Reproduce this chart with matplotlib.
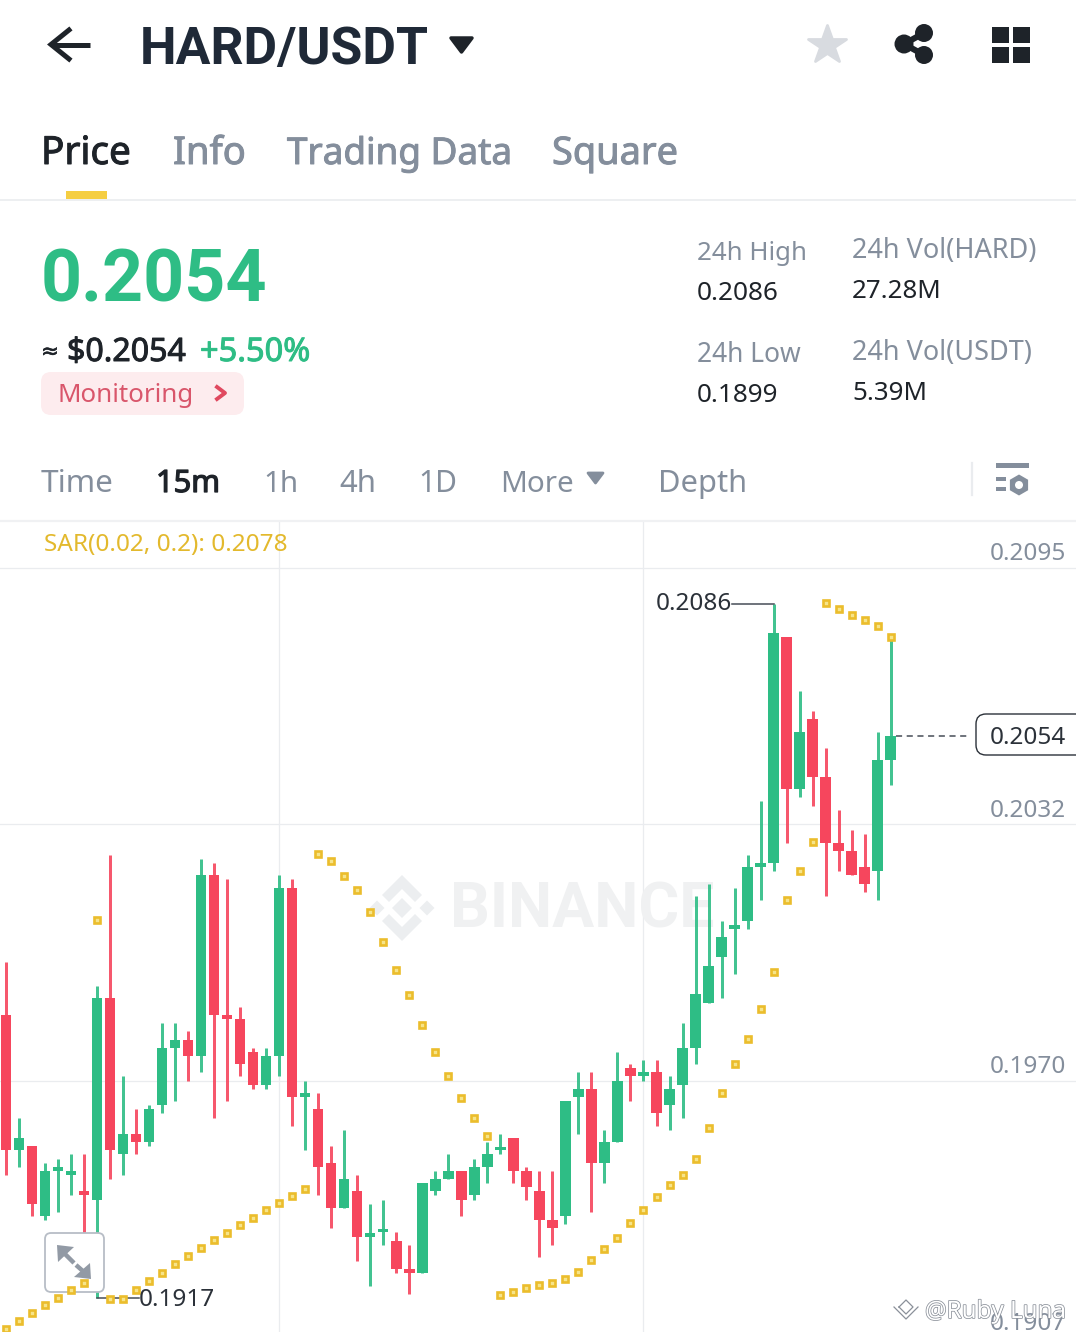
#!/usr/bin/env python
# -*- coding: utf-8 -*-
import matplotlib
matplotlib.use('Agg')
import numpy as np
import matplotlib.pyplot as plt
import matplotlib.patheffects as pe
from matplotlib.markers import MarkerStyle
from matplotlib.patches import Circle, FancyBboxPatch, Polygon, Rectangle

# 15m candles
opens = [0.1986, 0.1953, 0.1954, 0.1937, 0.1948, 0.1947, 0.1943, 0.1941, 0.1990, 0.1952,
         0.1957, 0.1955, 0.1964, 0.1978, 0.1980, 0.1976, 0.2020, 0.1986, 0.1985, 0.1977,
         0.1969, 0.1976, 0.2017, 0.1966, 0.1963, 0.1950, 0.1939, 0.1943, 0.1932, 0.1933,
         0.1931, 0.1924, 0.1923, 0.1943, 0.1946, 0.1948, 0.1942, 0.1949, 0.1953, 0.1956,
         0.1948, 0.1943, 0.1936, 0.1937, 0.1966, 0.1968, 0.1950, 0.1955, 0.1973, 0.1971,
         0.1972, 0.1964, 0.1969, 0.1978, 0.1989, 0.2000, 0.2007, 0.2009, 0.2022, 0.2023,
         0.2078, 0.2041, 0.2058, 0.2044, 0.2028, 0.2026, 0.2022, 0.2021, 0.2048]
closes = [0.1953, 0.1956, 0.1940, 0.1948, 0.1949, 0.1947, 0.1942, 0.1990, 0.1953, 0.1957,
          0.1955, 0.1963, 0.1978, 0.1980, 0.1976, 0.2020, 0.1986, 0.1985, 0.1974, 0.1969,
          0.1976, 0.2017, 0.1966, 0.1966, 0.1949, 0.1939, 0.1946, 0.1932, 0.1932, 0.1933,
          0.1924, 0.1923, 0.1945, 0.1946, 0.1948, 0.1941, 0.1949, 0.1952, 0.1953, 0.1948,
          0.1944, 0.1936, 0.1934, 0.1965, 0.1968, 0.1950, 0.1955, 0.1970, 0.1971, 0.1972,
          0.1962, 0.1968, 0.1978, 0.1991, 0.1998, 0.2005, 0.2007, 0.2022, 0.2023, 0.2079,
          0.2041, 0.2055, 0.2044, 0.2028, 0.2026, 0.2020, 0.2018, 0.2048, 0.2054]
highs = [0.1999, 0.1961, 0.1954, 0.1950, 0.1951, 0.1952, 0.1952, 0.1993, 0.2025, 0.1971,
         0.1963, 0.1964, 0.1984, 0.1984, 0.1982, 0.2024, 0.2023, 0.2019, 0.1988, 0.1978,
         0.1978, 0.2020, 0.2019, 0.1970, 0.1967, 0.1954, 0.1958, 0.1947, 0.1940, 0.1941,
         0.1933, 0.1930, 0.1945, 0.1948, 0.1952, 0.1948, 0.1951, 0.1955, 0.1957, 0.1956,
         0.1949, 0.1948, 0.1948, 0.1965, 0.1972, 0.1972, 0.1958, 0.1977, 0.1974, 0.1975,
         0.1975, 0.1971, 0.1984, 0.2015, 0.2018, 0.2009, 0.2017, 0.2025, 0.2038, 0.2086,
         0.2078, 0.2065, 0.2060, 0.2051, 0.2036, 0.2031, 0.2030, 0.2055, 0.2078]
lows = [0.1947, 0.1949, 0.1937, 0.1936, 0.1938, 0.1942, 0.1925, 0.1917, 0.1946, 0.1947,
        0.1952, 0.1954, 0.1962, 0.1965, 0.1970, 0.1972, 0.1961, 0.1965, 0.1971, 0.1968,
        0.1968, 0.1971, 0.1959, 0.1953, 0.1942, 0.1934, 0.1939, 0.1926, 0.1920, 0.1930,
        0.1923, 0.1918, 0.1923, 0.1942, 0.1946, 0.1937, 0.1941, 0.1945, 0.1952, 0.1945,
        0.1941, 0.1927, 0.1930, 0.1935, 0.1957, 0.1938, 0.1945, 0.1955, 0.1965, 0.1970,
        0.1959, 0.1958, 0.1961, 0.1974, 0.1989, 0.1990, 0.1996, 0.2007, 0.2014, 0.2021,
        0.2028, 0.2039, 0.2037, 0.2015, 0.2021, 0.2020, 0.2016, 0.2014, 0.2042]
sar = [0.19095, 0.19113, 0.19133, 0.19152, 0.19171, 0.19190, 0.19208, 0.20091, 0.19168, 0.19168,
       0.19189, 0.19211, 0.19232, 0.19252, 0.19273, 0.19292, 0.19312, 0.19329, 0.19348, 0.19366,
       0.19384, 0.19402, 0.19418, 0.19435, 0.20251, 0.20234, 0.20199, 0.20164, 0.20110, 0.20038,
       0.19969, 0.19909, 0.19835, 0.19770, 0.19710, 0.19657, 0.19609, 0.19566, 0.19178, 0.19186,
       0.19194, 0.19201, 0.19208, 0.19216, 0.19233, 0.19262, 0.19290, 0.19316, 0.19352, 0.19385,
       0.19416, 0.19445, 0.19471, 0.19508, 0.19585, 0.19669, 0.19740, 0.19802, 0.19875, 0.19965,
       0.20141, 0.20211, 0.20282, 0.20864, 0.20849, 0.20835, 0.20822, 0.20808, 0.20782]
grid_prices = [0.20949, 0.20324, 0.19699]
axis_prices = [0.20949, 0.20324, 0.19699, 0.19074]
axis_labels = ['0.2095', '0.2032', '0.1970', '0.1907']
grid_candles = [21, 49]
last_price = 0.2054

GREEN = '#2EBD85'
RED = '#F6465D'
DARK = '#1E2329'
GREY = '#848E9C'
LINE = '#EAECEF'
YELLOW = '#EBBD2C'

plt.rcParams['font.family'] = ['Noto Sans', 'DejaVu Sans']
PX = 0.72  # points per pixel at dpi 100

fig = plt.figure(figsize=(10.76, 13.32), dpi=100, facecolor='white')
renderer = fig.canvas.get_renderer()

# overlay in pixels for the app screen around the chart
ui = fig.add_axes([0, 0, 1, 1], zorder=3)
ui.set_xlim(0, 1076)
ui.set_ylim(1332, 0)
ui.axis('off')


def put(s, x0, x1, base, color, size=18, thick=0, **kw):
    t = ui.text(x0, base, s, color=color, fontsize=size, va='baseline', ha='left', **kw)
    w = t.get_window_extent(renderer).width
    t.set_fontsize(size * (x1 - x0) / w)
    if thick:
        t.set_path_effects([pe.withStroke(linewidth=thick, foreground=color)])
    return t


# top bar
ui.plot([90, 52], [44.5, 44.5], color=DARK, lw=3.6, solid_capstyle='butt')
ui.plot([69, 51, 69], [30, 44.5, 59], color=DARK, lw=3.6, solid_joinstyle='miter')
put('HARD/USDT', 140, 429, 64, '#1F2937', 34, family='Roboto', weight='bold')
ui.add_patch(Polygon([(451, 38), (472, 38), (461.5, 52)], fc=DARK, ec=DARK, lw=2.5, joinstyle='round'))
ui.plot([826.5], [45], marker=MarkerStyle('*', joinstyle='round'), ms=29, color='#D8DBE0', mec='#D8DBE0', mew=2)
for ny in (33, 55):
    ui.plot([904, 924], [44, ny], color=DARK, lw=4.4)
    ui.add_patch(Circle((924, ny), 9, fc=DARK, ec='none'))
ui.add_patch(Circle((904, 44), 9.5, fc=DARK, ec='none'))
for gx in (992, 1013):
    for gy in (27, 47):
        ui.add_patch(Rectangle((gx, gy), 17, 16, fc=DARK, ec='none'))

# tabs
put('Price', 41, 131, 164, DARK, 26, thick=0.7)
put('Info', 173, 246, 164, GREY, 26, thick=0.7)
put('Trading Data', 287, 512, 164, GREY, 26, thick=0.7)
put('Square', 552, 678, 164, GREY, 26, thick=0.7)
ui.add_patch(Rectangle((66, 191), 41, 8, fc='#F5CE42', ec='none'))
ui.plot([0, 1076], [199.5, 199.5], color=LINE, lw=1.2)

# price block
put('0.2054', 41, 268, 301, GREEN, 50, family='Roboto', weight='bold')
put('≈', 41, 59, 358, DARK, 24, thick=0.4)
put('$0.2054', 67, 186, 361, DARK, 24, thick=0.7)
put('+5.50%', 200, 310, 361, GREEN, 24, thick=0.7)
ui.add_patch(FancyBboxPatch((47, 378), 191, 31, boxstyle='round,pad=6,rounding_size=10', fc='#FDECEE', ec='none'))
put('Monitoring', 58, 194, 402, '#D9566B', 22)
ui.plot([217, 225, 217], [387, 393, 399], color='#E0495F', lw=2.8)

put('24h High', 697, 807, 260, GREY, 20)
put('0.2086', 697, 779, 300, DARK, 20)
put('24h Vol(HARD)', 852, 1037, 258, GREY, 20)
put('27.28M', 852, 942, 298, DARK, 20)
put('24h Low', 697, 801, 362, GREY, 20)
put('0.1899', 697, 779, 402, DARK, 20)
put('24h Vol(USDT)', 852, 1032, 360, GREY, 20)
put('5.39M', 852, 927, 400, DARK, 20)

# interval row
put('Time', 41, 114, 492, GREY, 23)
put('15m', 156, 220, 492, DARK, 23, thick=0.9)
put('1h', 263, 298, 492, GREY, 23)
put('4h', 339, 376, 492, GREY, 23)
put('1D', 418, 457, 492, GREY, 23)
put('More', 500, 574, 492, GREY, 23)
ui.add_patch(Polygon([(588, 473), (603, 473), (595.5, 483)], fc=GREY, ec=GREY, lw=2, joinstyle='round'))
put('Depth', 658, 747, 492, GREY, 23)
ui.plot([972, 972], [463, 495], color=LINE, lw=1.6)
ui.add_patch(Rectangle((996, 463), 33, 4.5, fc=GREY, ec='none'))
ui.add_patch(Rectangle((996, 477), 10, 4, fc=GREY, ec='none'))
ui.add_patch(Rectangle((996, 487), 10, 4, fc=GREY, ec='none'))
ang = np.deg2rad(np.arange(30, 390, 60))
ui.add_patch(Polygon(np.c_[1019 + 10.5 * np.cos(ang), 485 + 10.5 * np.sin(ang)], fc=GREY, ec='none'))
ui.add_patch(Circle((1019, 485), 4, fc='white', ec='none'))
ui.plot([0, 1076], [521, 521], color='#F0F1F3', lw=1.6)

# chart axes: one candle every 13.01 px, 0.00625 of price every 256.5 px
ax = fig.add_axes([0, 0, 1, (1332 - 522) / 1332], zorder=2)
ax.set_xlim(-6 / 13.01, 1070 / 13.01)
ax.set_ylim(0.190874, 0.21061)
for s in ax.spines.values():
    s.set_visible(False)
ax.set_xticks(grid_candles)
ax.set_yticks(grid_prices)
ax.tick_params(length=0, labelbottom=False, labelleft=False)
ax.grid(True, color=LINE, lw=0.9)
ax.set_axisbelow(True)

x = np.arange(len(opens))
o = np.array(opens)
c = np.array(closes)
colors = [GREEN if b >= a else RED for a, b in zip(o, c)]
ax.vlines(x, lows, highs, colors=colors, lw=3 * PX, alpha=0.9, zorder=3)
ax.bar(x, np.maximum(np.abs(c - o), 0.00009), bottom=np.minimum(o, c), width=10.4 / 13.01, color=colors, zorder=4)

# watermark behind the candles
ax.text(450, 927, 'BINANCE', transform=ui.transData, color='#F0F1F2', fontsize=45, family='Roboto',
        weight='bold', va='baseline', ha='left', zorder=1)
cx, cy = 402, 908
for dx, dy, r in [(0, 0, 10), (-25, 0, 7.5), (25, 0, 7.5)]:
    ax.add_patch(Polygon([(cx + dx - r, cy + dy), (cx + dx, cy + dy - r), (cx + dx + r, cy + dy), (cx + dx, cy + dy + r)],
                         transform=ui.transData, fc='#ECEEF0', ec='none', zorder=1))
for sgn in (-1, 1):
    ax.add_patch(Polygon([(cx - 20, cy + sgn * 13), (cx, cy + sgn * 33), (cx + 20, cy + sgn * 13), (cx + 13, cy + sgn * 6),
                          (cx, cy + sgn * 19), (cx - 13, cy + sgn * 6)],
                         transform=ui.transData, fc='#ECEEF0', ec='none', zorder=1))

# expand button sits over the wicks but under the SAR dots
ax.add_patch(FancyBboxPatch((49, 1237), 51, 51, boxstyle='round,pad=4,rounding_size=6', transform=ui.transData,
                            fc='white', ec='#B7BDC6', lw=1.3, zorder=5, clip_on=False))
ax.plot([65, 74], [1254, 1263], transform=ui.transData, color='#929AA5', lw=3.2, zorder=6, solid_capstyle='butt')
ax.plot([76, 84], [1265, 1272], transform=ui.transData, color='#929AA5', lw=3.2, zorder=6, solid_capstyle='butt')
ax.add_patch(Polygon([(57, 1245), (74, 1247), (58, 1262)], transform=ui.transData, fc='#929AA5', ec='none', zorder=6))
ax.add_patch(Polygon([(91, 1279), (74, 1277), (90, 1263)], transform=ui.transData, fc='#929AA5', ec='none', zorder=6))

ax.plot(x, sar, ls='none', marker='s', ms=3.9, mfc='#F6E48A', mec=YELLOW, mew=1.9, zorder=7)

# high / low / last price marks
hi = int(np.argmax(highs))
lo = int(np.argmin(lows))
ax.plot([55.8, hi], [highs[hi], highs[hi]], color='#474D57', lw=1.1, zorder=3)
ax.plot([lo, 10.2], [lows[lo], lows[lo]], color='#474D57', lw=1.1, zorder=3)
ax.text(55.8, highs[hi], '%.4f' % highs[hi], ha='right', va='center', color='#2B3139', fontsize=17.5, zorder=8)
ax.annotate('%.4f' % lows[lo], (10.2, lows[lo]), xytext=(0, -2 * PX), textcoords='offset points',
            ha='left', va='center', color='#2B3139', fontsize=17.5, zorder=8)
ax.plot([68.4, 74], [last_price, last_price], color='#474D57', lw=1.1, ls=(0, (4, 3)), zorder=3)

for p, lab in zip(axis_prices, axis_labels):
    ax.annotate(lab, (1, p), xycoords=ax.get_yaxis_transform(), xytext=(-10 * PX, 1.5 * PX), textcoords='offset points',
                ha='right', va='bottom', color=GREY, fontsize=17.5, annotation_clip=False)

put('SAR(0.02, 0.2): 0.2078', 44, 288, 551, '#E3B92D', 17)
ui.add_patch(FancyBboxPatch((986, 724), 100, 21, boxstyle='round,pad=10,rounding_size=10', fc='white', ec='#2B3139', lw=1))
ui.text(990, 738, '%.4f' % last_price, color='#2B3139', fontsize=17.5, va='center', ha='left')

# reposter's mark over the bottom corner
mark = put('@Ruby Luna', 925, 1066, 1318, 'white', 20)
mark.set_path_effects([pe.withStroke(linewidth=1.1, foreground='#8A9099')])
ui.plot([894, 906, 918], [1307, 1319, 1307], color='#8A9099', lw=0.9)
ui.plot([899, 906, 913, 906, 899], [1307, 1300, 1307, 1314, 1307], color='#8A9099', lw=0.9)

fig.savefig('out.png', dpi=100, facecolor='white')
